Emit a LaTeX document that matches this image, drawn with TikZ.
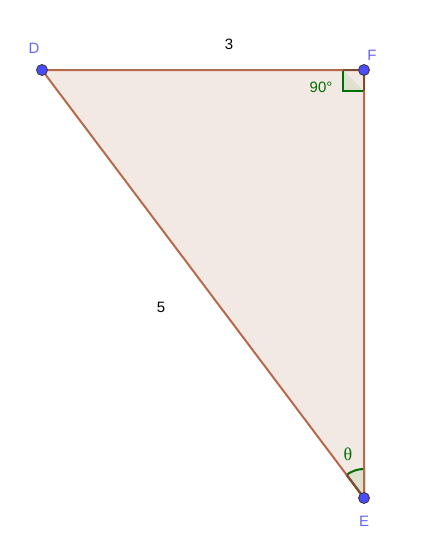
\documentclass[tikz,border=0pt]{standalone}
\usepackage{fontspec}
\setmainfont{Liberation Sans}
\newfontfamily\thetafont{Liberation Serif}
\usetikzlibrary{positioning,calc}

\definecolor{edgebrown}{RGB}{184,105,74}
\definecolor{areafill}{RGB}{243,233,228}
\definecolor{anglegreen}{RGB}{0,110,0}
\definecolor{anglefill}{RGB}{222,224,208}
\definecolor{ptblue}{RGB}{75,75,255}
\definecolor{labelblue}{RGB}{100,100,255}

\begin{document}
\begin{tikzpicture}[
    x=1pt, y=-1pt,
    vertex/.style={circle, draw=black!80, fill=ptblue, line width=0.8pt, minimum size=11pt, inner sep=0pt},
    vlabel/.style={text=labelblue, font=\fontsize{15}{17}\selectfont},
    side/.style={text=black, font=\fontsize{15}{17}\selectfont},
    anglabel/.style={text=anglegreen, font=\fontsize{15}{17}\selectfont}
]
\useasboundingbox (0,0) rectangle (431,554);

% Corners
\coordinate (D) at (42,70);
\coordinate (F) at (364,70);
\coordinate (E) at (364,498);

% Triangle area
\fill[areafill] (D) -- (F) -- (E) -- cycle;

% Right angle at F
\filldraw[fill=anglefill, draw=anglegreen, line width=2pt] (343,70) -- (343,91) -- (364,91);

% Angle theta at E
\filldraw[fill=anglefill, draw=anglegreen, line width=2pt]
    (E) -- ++(0,-29) arc[start angle=-90, end angle=-126.96, radius=29] -- cycle;

% Sides
\draw[edgebrown, line width=2pt] (D) -- (F) -- (E) -- cycle;
\draw[edgebrown!70!black, line width=2pt] (E) -- ($(E)!29pt!(D)$);
\draw[edgebrown!70!black, line width=2pt] (343,70) -- (364,70) -- (364,91);

% Points
\node[vertex] (d) at (D) {};
\node[vertex] (f) at (F) {};
\node[vertex] (e) at (E) {};

% Labels
\node[vlabel] (dl) at (34,48) {D};
\node[vlabel] (fl) at (372,55) {F};
\node[vlabel] (el) at (364,521) {E};
\node[side] (a) at (229,44) {3};
\node[side] (c) at (161,307) {5};
\node[anglabel] (right) at (321,87) {90°};
\node[anglabel] (theta) at (348,454) {\thetafont\fontsize{18}{20}\selectfont θ};

\end{tikzpicture}
\end{document}
